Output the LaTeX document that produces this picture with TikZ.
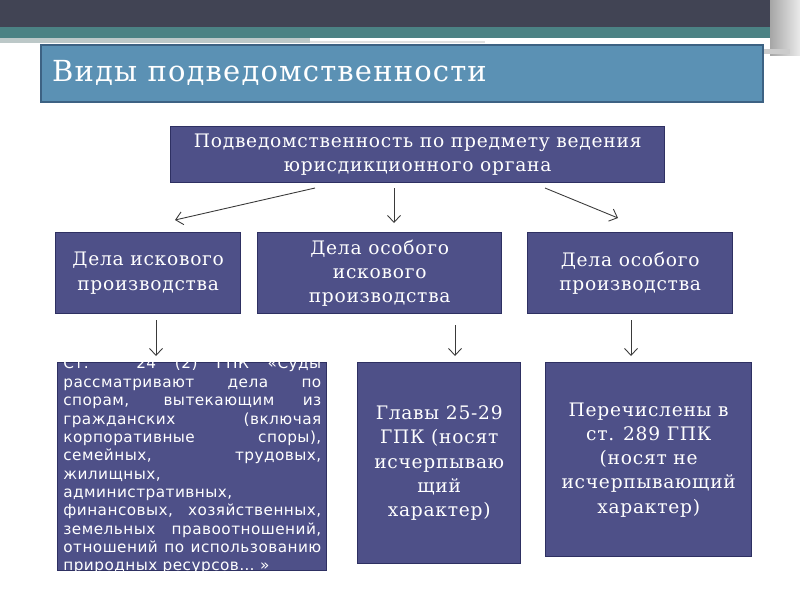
\documentclass[tikz,border=0pt]{standalone}
\usepackage{fontspec}
\setmainfont[LetterSpace=4]{DejaVu Serif}
\newfontfamily\plainsans[LetterSpace=3]{DejaVu Sans}
\usetikzlibrary{arrows.meta,positioning,calc}
\definecolor{topbar}{HTML}{414454}
\definecolor{teal}{HTML}{4B8284}
\definecolor{greyband}{HTML}{BCC8C8}
\definecolor{titlebg}{HTML}{5B91B4}
\definecolor{titlebd}{HTML}{3D6283}
\definecolor{boxbg}{HTML}{4E5088}
\definecolor{boxbd}{HTML}{2E3062}
\definecolor{arrowc}{HTML}{3A3A3A}
\tikzset{
  vidbox/.style={draw=boxbd,fill=boxbg,line width=0.8pt,text=white,
                 align=center,inner sep=2pt,anchor=north west,
                 font=\fontsize{10.6}{13.8}\selectfont},
  arrowthin/.style={-{Straight Barb[length=1.4mm,width=2.6mm]},
                    line width=0.5pt,arrowc},
}

\begin{document}
\begin{tikzpicture}[x=0.02cm,y=-0.02cm]
  \useasboundingbox(0,0)rectangle(800,600);
  % slide header
  \fill[topbar](0,0)rectangle(800,27);
  \fill[teal](0,27)rectangle(776,38);
  \fill[greyband](0,38)rectangle(310,43);
  \fill[black!12](310,41)rectangle(485,43);
  \shade[left color=black!35,right color=black!8](770,0)rectangle(800,55);
  \fill[black!20](762,49)rectangle(790,54);
  \node[draw=titlebd,fill=titlebg,line width=1pt,anchor=north west,
        minimum width=14.44cm,minimum height=1.14cm](title)at(40,44){};
  \node[text=white,anchor=west,font=\fontsize{16.5}{20}\selectfont]
    (titletext)at(46,73){Виды подведомственности};
  % boxes
  \node[vidbox,minimum width=9.88cm,minimum height=1.12cm](top)at(170,126)
    {Подведомственность по предмету ведения\\юрисдикционного органа};
  \node[vidbox,minimum width=3.7cm,minimum height=1.62cm](iskov)at(55,232)
    {Дела искового\\производства};
  \node[vidbox,minimum width=4.88cm,minimum height=1.62cm](osobisk)at(257,232)
    {Дела особого\\искового\\производства};
  \node[vidbox,minimum width=4.1cm,minimum height=1.62cm](osob)at(527,232)
    {Дела особого\\производства};
  \node[vidbox,minimum width=5.38cm,minimum height=4.16cm](st)at(57,362){};
  \node[vidbox,minimum width=3.26cm,minimum height=4.02cm](glavy)at(357,362)
    {Главы 25-29\\ГПК (носят\\исчерпываю\\щий\\характер)};
  \node[vidbox,minimum width=4.12cm,minimum height=3.88cm](perech)at(545,362)
    {Перечислены в\\ст. 289 ГПК\\(носят не\\исчерпывающий\\характер)};
  \begin{scope}
    \clip(st.north west)rectangle(st.south east);
    \node[text=white,anchor=north west,text width=5.16cm,align=justify,
          inner sep=0pt,font=\plainsans\fontsize{8.7}{10.45}\selectfont]
      (sttext)at(63,357){\hbadness=10000 \tolerance=10000
      Ст. 24 (2) ГПК «Суды\linebreak
      рассматривают дела по\linebreak
      спорам, вытекающим из\linebreak
      гражданских (включая\linebreak
      корпоративные споры),\linebreak
      семейных, трудовых,\linebreak
      жилищных,\newline
      административных,\newline
      финансовых, хозяйственных,\linebreak
      земельных правоотношений,\linebreak
      отношений по использованию\linebreak
      природных ресурсов… »};
  \end{scope}
  % connectors
  \coordinate (a1s)at(315,188);\coordinate (a1e)at(175,220);
  \coordinate (a2s)at(394,188);\coordinate (a2e)at(394,223);
  \coordinate (a3s)at(545,188);\coordinate (a3e)at(618,218);
  \coordinate (b1s)at(156,320);\coordinate (b1e)at(156,356);
  \coordinate (b2s)at(455,325);\coordinate (b2e)at(455,356);
  \coordinate (b3s)at(631,320);\coordinate (b3e)at(631,356);
  \foreach \s/\e in {a1s/a1e,a2s/a2e,a3s/a3e,b1s/b1e,b2s/b2e,b3s/b3e}{
    \draw[arrowthin](\s)--(\e);
  }
\end{tikzpicture}
\end{document}
